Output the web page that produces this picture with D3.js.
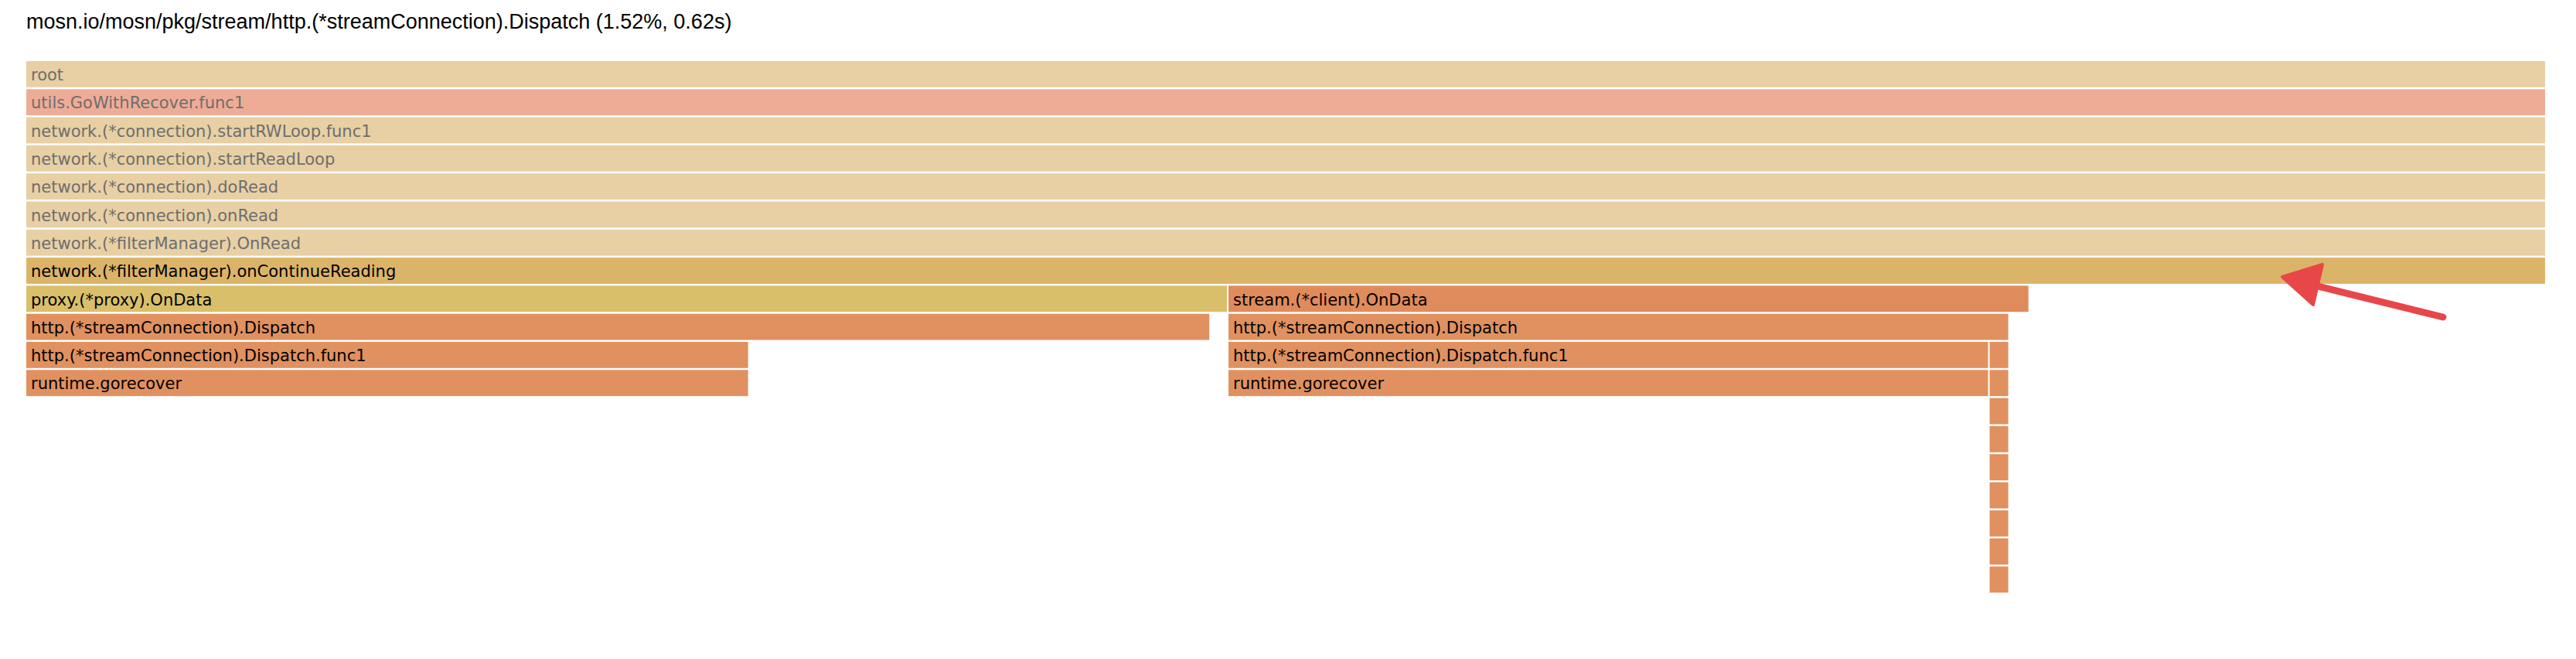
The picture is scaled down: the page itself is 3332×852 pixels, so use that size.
<!DOCTYPE html>
<html><head><meta charset="utf-8">
<script src="https://d3js.org/d3.v7.min.js"></script>
<style>body{margin:0;background:#fff}</style></head>
<body><svg id="c" width="3332" height="852"></svg>
<script>
const title = "mosn.io/mosn/pkg/stream/http.(*streamConnection).Dispatch (1.52%, 0.62s)";
const chainNames = ["root","utils.GoWithRecover.func1","network.(*connection).startRWLoop.func1","network.(*connection).startReadLoop","network.(*connection).doRead","network.(*connection).onRead","network.(*filterManager).OnRead","network.(*filterManager).onContinueReading"];
const chainColors = ["#e8d0a4","#eeac97","#e8d0a4","#e8d0a4","#e8d0a4","#e8d0a4","#e8d0a4","#dcb468"];
const chainDim = [true,true,true,true,true,true,true,false];
const proxyVals = [477, 470, 287, 287];
const proxyNames = ["proxy.(*proxy).OnData","http.(*streamConnection).Dispatch","http.(*streamConnection).Dispatch.func1","runtime.gorecover"];
const proxyColors = ["#d9bf6a","#e0915f","#e0915f","#e0915f"];
const clientVals = [318, 310, 302, 302];
const clientNames = ["stream.(*client).OnData","http.(*streamConnection).Dispatch","http.(*streamConnection).Dispatch.func1","runtime.gorecover"];
const clientColors = ["#e08b5b","#e0915f","#e0915f","#e0915f"];
const tailNames = ["runtime.mcall","runtime.gopark","runtime.park_m","runtime.schedule","runtime.findrunnable","runtime.netpoll","runtime.epollwait","runtime.systemstack","runtime.morestack"];
const tailVal = 8;
const total = 1000;

function chain(names, vals, colors){
  let node=null;
  for(let i=names.length-1;i>=0;i--){
    const self = vals[i] - (i+1<vals.length ? vals[i+1] : 0);
    const n={name:names[i],color:colors[i],value:self};
    if(node) n.children=[node];
    node=n;
  }
  return node;
}
const pBranch = chain(proxyNames, proxyVals, proxyColors);
const cBranch = chain(clientNames, clientVals, clientColors);
const tail = chain(tailNames, tailNames.map(()=>tailVal), tailNames.map(()=>"#e0915f"));
cBranch.children[0].children.push(tail);
cBranch.children[0].value -= tailVal;
let stackTop={name:chainNames[7],color:chainColors[7],dim:chainDim[7],value:total-proxyVals[0]-clientVals[0],children:[pBranch,cBranch]};
for(let i=6;i>=0;i--) stackTop={name:chainNames[i],color:chainColors[i],dim:chainDim[i],value:0,children:[stackTop]};

const svg=d3.select("#c");
svg.append("text").attr("x",34).attr("y",37).attr("font-family","Liberation Sans, Arial, sans-serif")
  .attr("font-size",27).attr("fill","#000").text(title);

const root=d3.hierarchy(stackTop).sum(d=>Math.max(0,d.value||0));
d3.partition().size([1,root.height+1])(root);
const x=d3.scaleLinear().domain([0,1]).range([34,3294]);
const rowH=36.3, y0=79;
const y=d=>y0+d*rowH;
const nodes=root.descendants();
const g=svg.selectAll("g.f").data(nodes).join("g").attr("class","f");
g.append("rect").attr("x",d=>x(d.x0)).attr("y",d=>y(d.depth))
  .attr("width",d=>Math.max(1,x(d.x1)-x(d.x0)-2)).attr("height",rowH-2.5)
  .attr("fill",d=>d.data.color);
g.filter(d=>x(d.x1)-x(d.x0)>60).append("text")
  .attr("x",d=>x(d.x0)+6).attr("y",d=>y(d.depth)+rowH/2+7)
  .attr("font-family","DejaVu Sans, Verdana, sans-serif").attr("font-size",21)
  .attr("fill",d=>d.data.dim?"#6e6e6e":"#000").text(d=>d.data.name);

const ax1=3160, ay1=410, ax2=2952, ay2=358;
svg.append("line").attr("x1",ax1).attr("y1",ay1).attr("x2",ax2+30).attr("y2",ay2+8)
  .attr("stroke","#e8474a").attr("stroke-width",9).attr("stroke-linecap","round");
svg.append("path").attr("d",`M${ax2},${ay2} L${ax2+52},${ay2-16} L${ax2+40},${ay2+36} Z`)
  .attr("fill","#e8474a").attr("stroke","#e8474a").attr("stroke-width",4).attr("stroke-linejoin","round");
</script></body></html>
